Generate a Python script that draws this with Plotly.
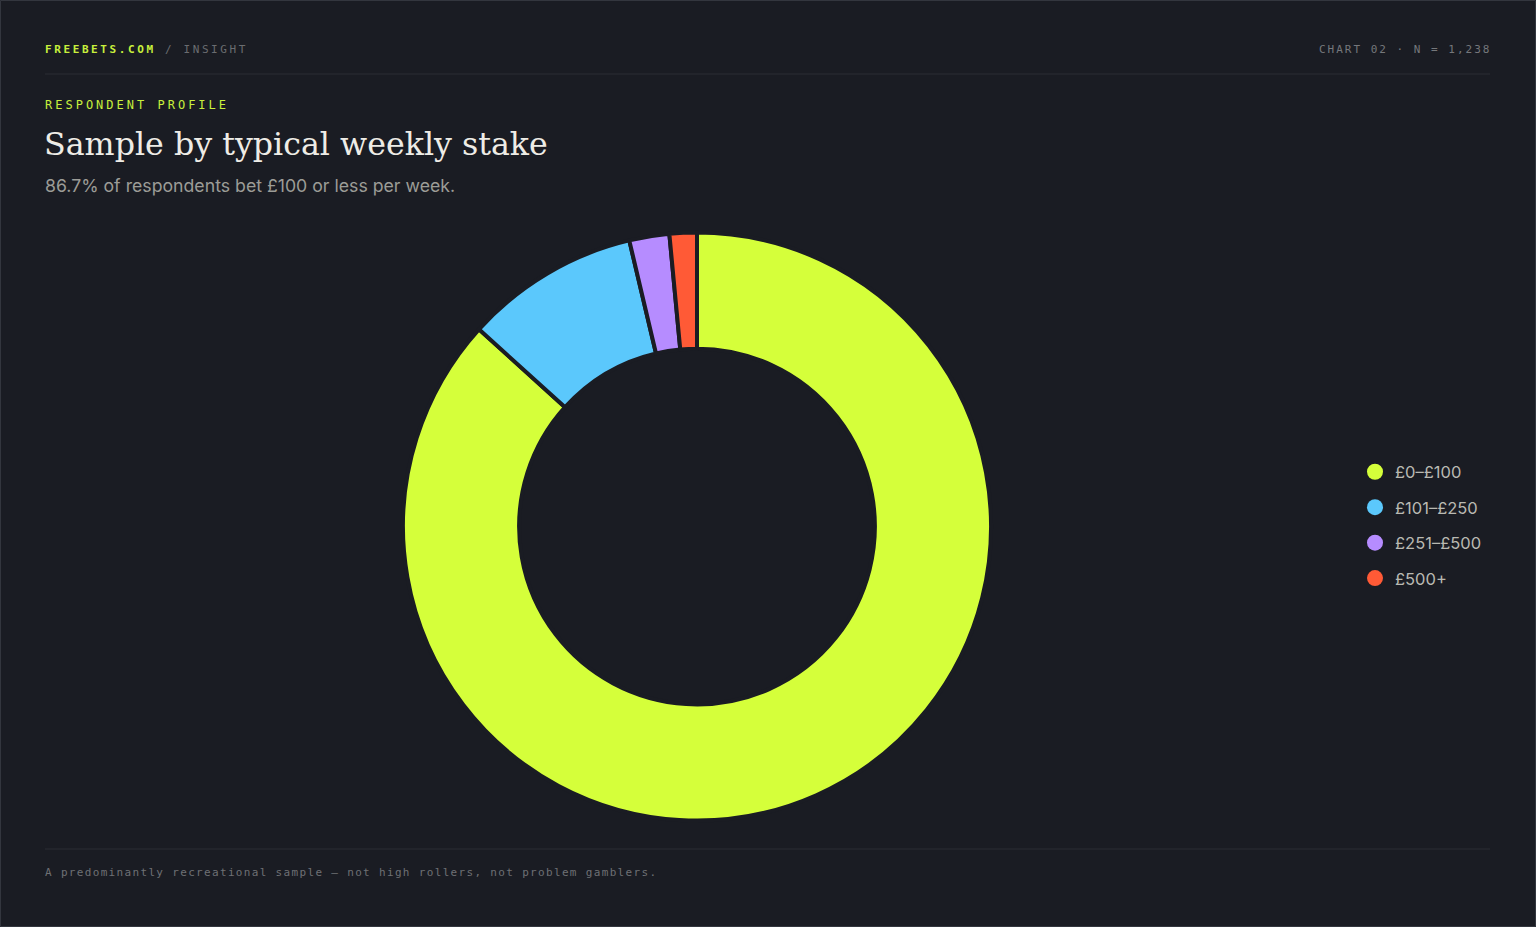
import plotly.graph_objects as go

# ---- data ----
categories = ["£0–£100", "£101–£250", "£251–£500", "£500+"]
shares = [86.7, 9.6, 2.2, 1.5]
colors = ["#D5FF3A", "#5BC8FC", "#B68CFF", "#FF5A36"]

title = "Sample by typical weekly stake"
subtitle = "86.7% of respondents bet £100 or less per week."
kicker = "RESPONDENT PROFILE"
brand = "FREEBETS.COM"
section = "INSIGHT"
chart_tag = "CHART 02 · N = 1,238"
footnote = "A predominantly recreational sample — not high rollers, not problem gamblers."

BG = "#1A1C23"
W, H = 1536, 927

fig = go.Figure()

cx, cy, r = 697, 526.5, 294
fig.add_trace(go.Pie(
    labels=categories, values=shares,
    marker=dict(colors=colors, line=dict(color=BG, width=4)),
    hole=0.605, sort=False, direction="clockwise", rotation=0,
    textinfo="none", hoverinfo="label+percent", showlegend=False,
    domain=dict(x=[(cx - r) / W, (cx + r) / W], y=[1 - (cy + r) / H, 1 - (cy - r) / H]),
))

for cat, col in zip(categories, colors):
    fig.add_trace(go.Scatter(
        x=[None], y=[None], mode="markers", name=cat, legendgroup=cat,
        marker=dict(symbol="circle", size=17, color=col),
    ))

mono = "DejaVu Sans Mono, Liberation Mono, monospace"
ann = [
    dict(x=43, y=50, text=f'<span style="letter-spacing:2.6px"><b>{brand}</b></span>', font=dict(family=mono, size=11, color="#C8F03C")),
    dict(x=163, y=50, text=f'<span style="letter-spacing:2.6px">/ {section}</span>', font=dict(family=mono, size=11, color="#6A6C70")),
    dict(x=1493, y=50, text=f'<span style="letter-spacing:2px">{chart_tag}</span>', font=dict(family=mono, size=11, color="#75777B"), xanchor="right"),
    dict(x=43, y=105, text=f'<span style="letter-spacing:3px">{kicker}</span>', font=dict(family=mono, size=12, color="#C8F03C")),
    dict(x=42, y=144, text=title, font=dict(family="DejaVu Serif, serif", size=31.7, color="#EEECE6")),
    dict(x=43, y=185, text=subtitle, font=dict(family="Inter, Open Sans, sans-serif", size=17.7, color="#9C9C97")),
    dict(x=43, y=872, text=f'<span style="letter-spacing:1.33px">{footnote}</span>', font=dict(family=mono, size=11, color="#6E7074")),
]
annotations = []
for a in ann:
    d = dict(xref="paper", yref="paper", showarrow=False, xanchor=a.get("xanchor", "left"), yanchor="middle")
    d.update(x=a["x"] / W, y=1 - a["y"] / H, text=a["text"], font=a["font"])
    annotations.append(d)

shapes = [
    dict(type="line", xref="paper", yref="paper", x0=45 / W, x1=1490 / W, y0=1 - 74 / H, y1=1 - 74 / H, line=dict(color="#2A2D35", width=1)),
    dict(type="line", xref="paper", yref="paper", x0=45 / W, x1=1490 / W, y0=1 - 849 / H, y1=1 - 849 / H, line=dict(color="#2A2D35", width=1)),
    dict(type="rect", xref="paper", yref="paper", x0=0.5 / W, x1=1 - 0.5 / W, y0=0.5 / H, y1=1 - 0.5 / H, line=dict(color="#33363E", width=1)),
]

fig.update_layout(
    width=W, height=H, autosize=False,
    margin=dict(l=0, r=0, t=0, b=0),
    paper_bgcolor=BG, plot_bgcolor=BG,
    xaxis=dict(visible=False), yaxis=dict(visible=False),
    showlegend=True,
    legend=dict(x=1355 / W, y=1 - 525 / H, xanchor="left", yanchor="middle",
                font=dict(family="Inter, Open Sans, sans-serif", size=16.5, color="#B9B9B2"),
                bgcolor="rgba(0,0,0,0)", tracegroupgap=11, itemclick=False),
    annotations=annotations, shapes=shapes,
)

fig.write_html("out.html")
